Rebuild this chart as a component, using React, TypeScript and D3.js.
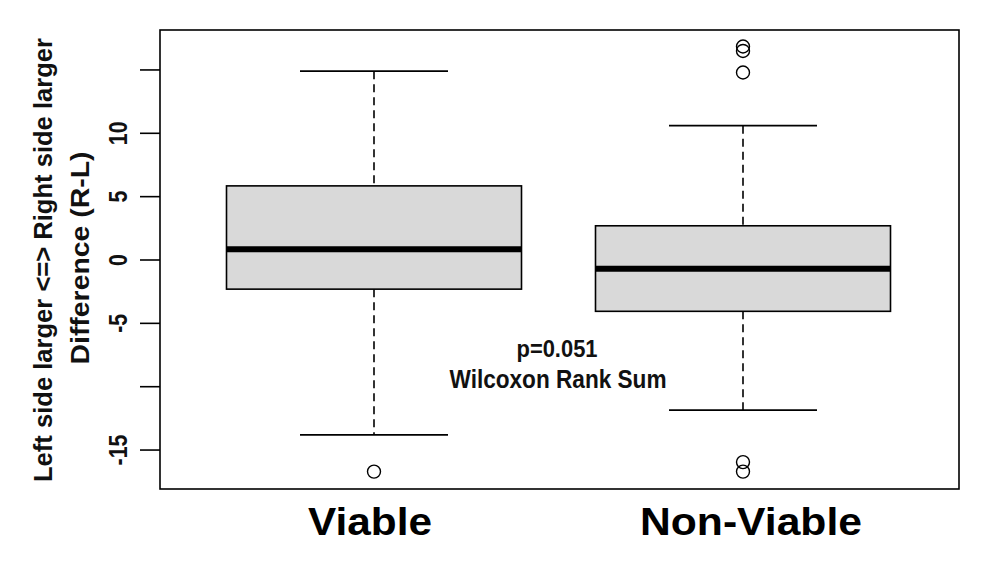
import React from "react";
import * as d3 from "d3";

const categories = ["Viable", "Non-Viable"];
const whiskerLow = [-13.8, -11.85];
const q1 = [-2.3, -4.05];
const median = [0.85, -0.7];
const q3 = [5.85, 2.7];
const whiskerHigh = [14.9, 10.6];
const outliersViable = [-16.7];
const outliersNonViable = [16.85, 16.5, 14.8, -15.95, -16.7];
const yTicks = [15, 10, 5, 0, -5, -10, -15];
const yTickLabels = ["", "10", "5", "0", "-5", "", "-15"];

export default function App() {
  const W = 986, H = 570;
  const left = 160, right = 959, top = 30, bottom = 489;
  const y = d3.scaleLinear().domain([0, 10]).range([260, 133.3]);
  const x = d3.scalePoint<string>().domain(categories).range([374, 743]);
  const boxHalf = 147.5;
  const capHalf = 74;
  const outliers = [outliersViable, outliersNonViable];
  const labelDx = [-4, 8];
  const labelLen = [124, 222];
  const font = "'Liberation Sans', Arial, sans-serif";
  return (
    <svg width={W} height={H} style={{ position: "absolute", left: 0, top: 0, background: "#fff" }}>
      <rect x={0} y={0} width={W} height={H} fill="#fff" />
      <rect x={left} y={top} width={right - left} height={bottom - top} fill="none" stroke="#000" strokeWidth={1.6} />
      {yTicks.map((t, i) => (
        <g key={t}>
          <line x1={140} x2={left} y1={y(t)} y2={y(t)} stroke="#000" strokeWidth={1.6} />
          {yTickLabels[i] && (
            <text transform={`translate(127,${y(t)}) rotate(-90) scale(0.82,1)`} textAnchor="middle" fontFamily={font} fontWeight="bold" fontSize={26} fill="#111">
              {yTickLabels[i]}
            </text>
          )}
        </g>
      ))}
      <text transform={`translate(52,260) rotate(-90)`} textAnchor="middle" fontFamily={font} fontWeight="bold" fontSize={26} fill="#111" textLength={444} lengthAdjust="spacingAndGlyphs">
        Left side larger &lt;=&gt; Right side larger
      </text>
      <text transform={`translate(89,258) rotate(-90)`} textAnchor="middle" fontFamily={font} fontWeight="bold" fontSize={26} fill="#111" textLength={213} lengthAdjust="spacingAndGlyphs">
        Difference (R-L)
      </text>
      {categories.map((c, i) => {
        const cx = x(c)!;
        return (
          <g key={c}>
            <line x1={cx} x2={cx} y1={y(whiskerHigh[i])} y2={y(q3[i])} stroke="#000" strokeWidth={1.6} strokeDasharray="8,5" />
            <line x1={cx} x2={cx} y1={y(q1[i])} y2={y(whiskerLow[i])} stroke="#000" strokeWidth={1.6} strokeDasharray="8,5" />
            <line x1={cx - capHalf} x2={cx + capHalf} y1={y(whiskerHigh[i])} y2={y(whiskerHigh[i])} stroke="#000" strokeWidth={1.8} />
            <line x1={cx - capHalf} x2={cx + capHalf} y1={y(whiskerLow[i])} y2={y(whiskerLow[i])} stroke="#000" strokeWidth={1.8} />
            <rect x={cx - boxHalf} y={y(q3[i])} width={boxHalf * 2} height={y(q1[i]) - y(q3[i])} fill="#d9d9d9" stroke="#000" strokeWidth={1.6} />
            <line x1={cx - boxHalf} x2={cx + boxHalf} y1={y(median[i])} y2={y(median[i])} stroke="#000" strokeWidth={6} />
            {outliers[i].map((o, j) => (
              <circle key={j} cx={cx} cy={y(o)} r={6.5} fill="none" stroke="#000" strokeWidth={1.4} />
            ))}
            <text x={cx + labelDx[i]} y={535} textAnchor="middle" fontFamily={font} fontWeight="bold" fontSize={38} fill="#000" textLength={labelLen[i]} lengthAdjust="spacingAndGlyphs">
              {c}
            </text>
          </g>
        );
      })}
      <text x={557} y={357} textAnchor="middle" fontFamily={font} fontWeight="bold" fontSize={24} fill="#111" textLength={81} lengthAdjust="spacingAndGlyphs">p=0.051</text>
      <text x={558} y={388} textAnchor="middle" fontFamily={font} fontWeight="bold" fontSize={25} fill="#111" textLength={217} lengthAdjust="spacingAndGlyphs">Wilcoxon Rank Sum</text>
    </svg>
  );
}
